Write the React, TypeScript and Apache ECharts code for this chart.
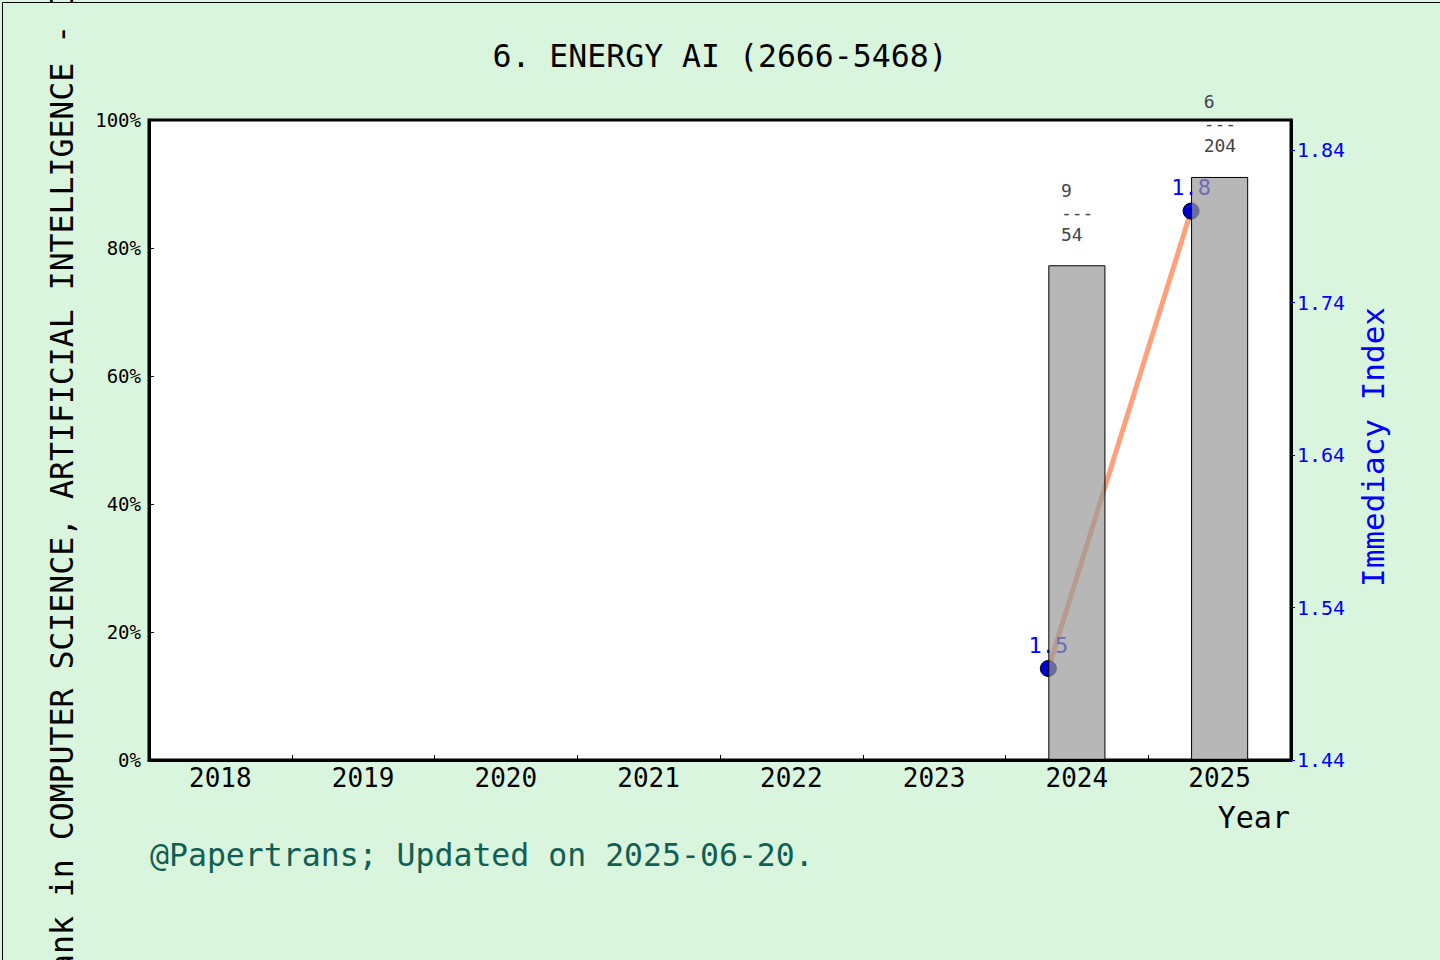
import React, { useEffect, useRef } from "react";
import * as echarts from "echarts";

const years = ["2018", "2019", "2020", "2021", "2022", "2023", "2024", "2025"];
const rankPercent: (number | null)[] = [null, null, null, null, null, null, 77.3, 91.1];
const rankNumbers: (number | null)[] = [null, null, null, null, null, null, 9, 6];
const rankTotals: (number | null)[] = [null, null, null, null, null, null, 54, 204];
const immediacy: (number | null)[] = [null, null, null, null, null, null, 1.5, 1.8];
const leftTicks = [0, 20, 40, 60, 80, 100];
const rightTicks = [1.44, 1.54, 1.64, 1.74, 1.84];

const TITLE = "6. ENERGY AI (2666-5468)";
const LEFT_LABEL = "Rank in COMPUTER SCIENCE, ARTIFICIAL INTELLIGENCE - IF";
const RIGHT_LABEL = "Immediacy Index";
const X_LABEL = "Year";
const FOOTER = "@Papertrans; Updated on 2025-06-20.";

const FONT = "'DejaVu Sans Mono', 'Liberation Mono', monospace";
const BAR_FRAC = 0.4;

export default function App() {
  const ref = useRef<HTMLDivElement>(null);
  useEffect(() => {
    if (!ref.current) return;
    const chart = echarts.init(ref.current, undefined, { renderer: "svg" });

    const lineData = immediacy
      .map((v, i) => (v == null ? null : [i - BAR_FRAC / 2, v]))
      .filter((d) => d != null);

    const barData = rankPercent.map((v, i) => ({
      value: v,
      label: {
        formatter:
          rankNumbers[i] == null ? "" : `${rankNumbers[i]}\n---\n${rankTotals[i]}`,
      },
    }));

    chart.setOption({
      animation: false,
      backgroundColor: "#daf5de",
      textStyle: { fontFamily: FONT },
      grid: {
        left: 149,
        top: 120,
        width: 1142,
        height: 640,
        show: true,
        backgroundColor: "#ffffff",
        borderColor: "#000000",
        borderWidth: 3,
        containLabel: false,
      },
      xAxis: [
        {
          type: "category",
          data: years,
          boundaryGap: true,
          axisLine: { onZero: false, lineStyle: { color: "#000", width: 3 } },
          axisTick: { show: true, inside: true, length: 5, lineStyle: { color: "#000", width: 1 } },
          axisLabel: { color: "#000", fontSize: 26, margin: 5, fontFamily: FONT },
          splitLine: { show: false },
        },
        {
          type: "value",
          min: -0.5,
          max: years.length - 0.5,
          show: false,
          axisLine: { onZero: false },
          splitLine: { show: false },
        },
      ],
      yAxis: [
        {
          type: "value",
          position: "left",
          min: 0,
          max: 100,
          interval: 20,
          axisLine: { show: true, onZero: false, lineStyle: { color: "#000", width: 3 } },
          axisTick: { show: true, inside: true, length: 5, lineStyle: { color: "#000", width: 1 } },
          axisLabel: {
            color: "#000",
            fontSize: 19,
            margin: 8,
            fontFamily: FONT,
            formatter: (v: number) => (leftTicks.includes(v) ? `${v}%` : ""),
          },
          splitLine: { show: false },
        },
        {
          type: "value",
          position: "right",
          min: 1.44,
          max: 1.8597,
          axisLine: { show: true, onZero: false, lineStyle: { color: "#000", width: 3 } },
          axisTick: {
            show: true,
            inside: false,
            length: 4,
            customValues: rightTicks,
            lineStyle: { color: "#0000ff", width: 1 },
          },
          axisLabel: {
            color: "#0000ff",
            fontSize: 20,
            margin: 6,
            fontFamily: FONT,
            customValues: rightTicks,
            formatter: (v: number) => v.toFixed(2),
          },
          splitLine: { show: false },
        },
      ],
      series: [
        {
          type: "line",
          xAxisIndex: 1,
          yAxisIndex: 1,
          data: lineData,
          z: 1,
          symbol: "circle",
          symbolSize: 16,
          lineStyle: { color: "#ffa07a", width: 5 },
          itemStyle: { color: "#0000cd", borderColor: "#000", borderWidth: 1 },
          label: {
            show: true,
            position: "top",
            distance: 4,
            color: "#0000ff",
            fontSize: 22,
            fontFamily: FONT,
            formatter: (p: any) => String(p.value[1]),
          },
        },
        {
          type: "bar",
          xAxisIndex: 0,
          yAxisIndex: 0,
          data: barData,
          z: 3,
          barWidth: `${BAR_FRAC * 100}%`,
          itemStyle: {
            color: "rgba(153,153,153,0.7)",
            borderColor: "#000",
            borderWidth: 1,
          },
          label: {
            show: true,
            position: "top",
            distance: 20,
            align: "left",
            offset: [-16, 0],
            color: "#444",
            fontSize: 18,
            lineHeight: 22,
            fontFamily: FONT,
          },
        },
      ],
      graphic: [
        {
          type: "rect",
          left: 0,
          top: 0,
          shape: { x: 0, y: 0, width: 1439, height: 959 },
          style: { fill: "none", stroke: "#000", lineWidth: 1 },
          z: 100,
          silent: true,
        },
        {
          type: "text",
          x: 720,
          y: 56,
          style: {
            text: TITLE,
            fontSize: 31.5,
            fontFamily: FONT,
            fill: "#000",
            textAlign: "center",
            textVerticalAlign: "middle",
          },
        },
        {
          type: "text",
          x: 62,
          y: 992,
          rotation: Math.PI / 2,
          style: {
            text: LEFT_LABEL,
            fontSize: 31.5,
            fontFamily: FONT,
            fill: "#000",
            textAlign: "left",
            textVerticalAlign: "middle",
          },
        },
        {
          type: "text",
          x: 1373,
          y: 447,
          rotation: Math.PI / 2,
          style: {
            text: RIGHT_LABEL,
            fontSize: 31,
            fontFamily: FONT,
            fill: "#0000ff",
            textAlign: "center",
            textVerticalAlign: "middle",
          },
        },
        {
          type: "text",
          x: 1290,
          y: 817,
          style: {
            text: X_LABEL,
            fontSize: 30,
            fontFamily: FONT,
            fill: "#000",
            textAlign: "right",
            textVerticalAlign: "middle",
          },
        },
        {
          type: "text",
          x: 150,
          y: 855,
          style: {
            text: FOOTER,
            fontSize: 31.5,
            fontFamily: FONT,
            fill: "#115e54",
            textAlign: "left",
            textVerticalAlign: "middle",
          },
        },
      ],
    });
    return () => chart.dispose();
  }, []);

  return (
    <div
      ref={ref}
      style={{ position: "fixed", left: 0, top: 0, width: 1440, height: 960 }}
    />
  );
}
